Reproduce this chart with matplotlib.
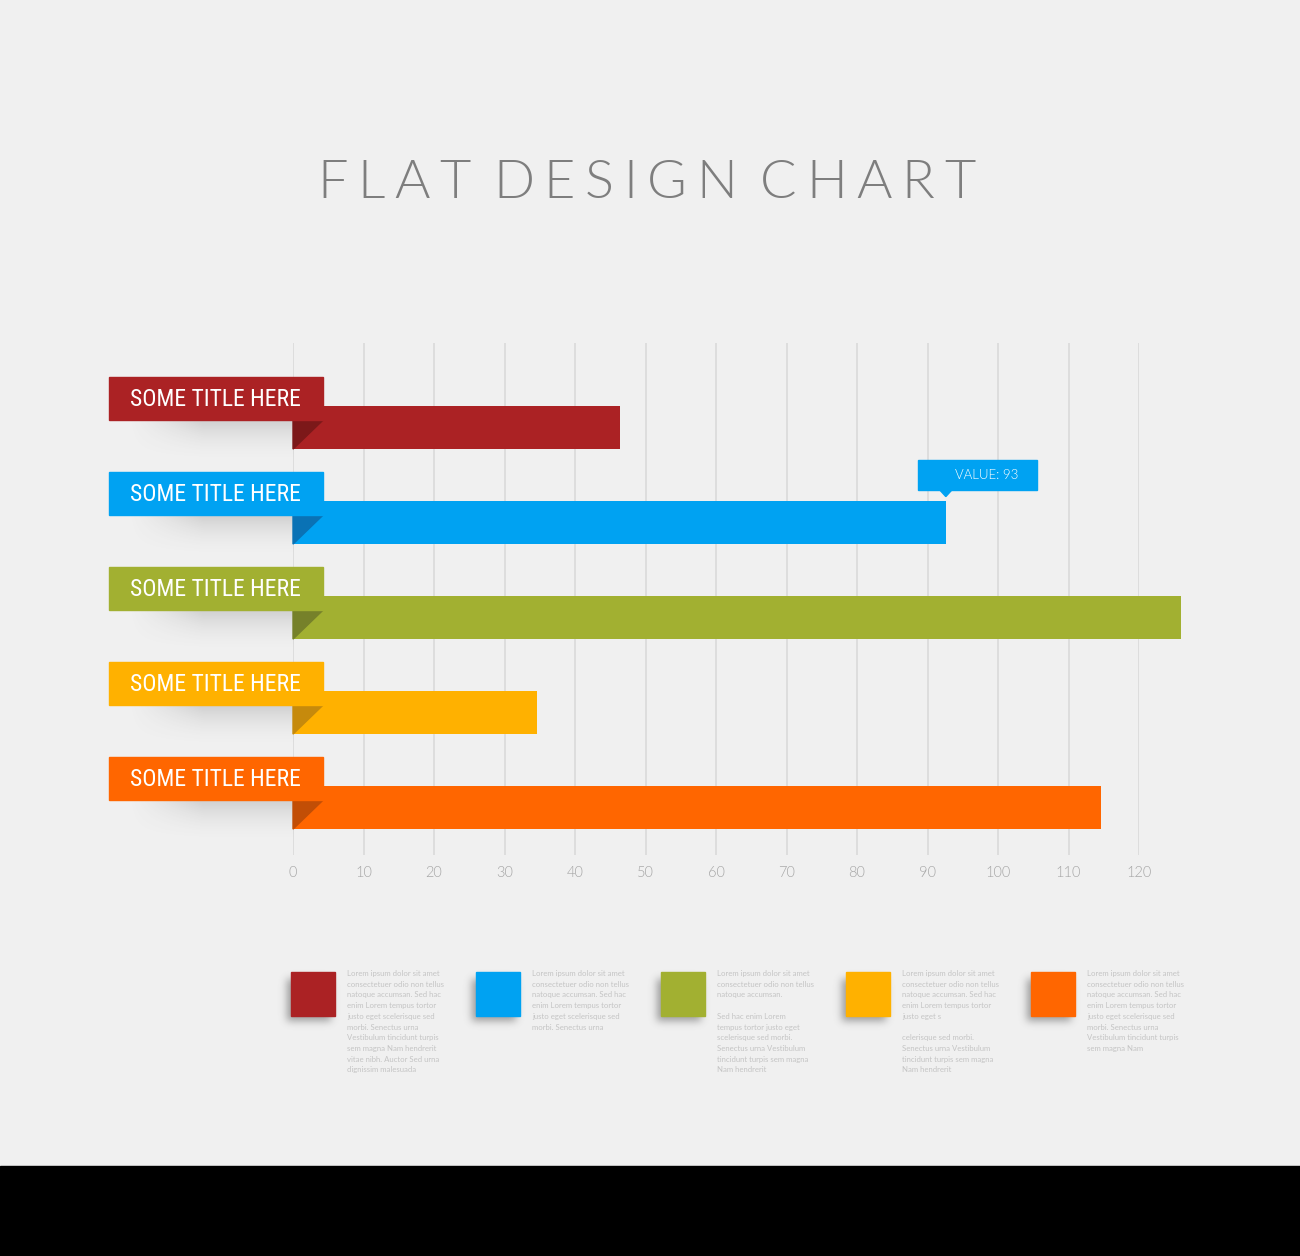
import os
import numpy as np
import matplotlib.pyplot as plt
from matplotlib.patches import Rectangle, Polygon
from matplotlib import font_manager as fm

W, H = 1300, 1256

# chart data
labels = ["SOME TITLE HERE"] * 5
values = [46.4, 92.6, 126, 34.6, 114.6]
colors = ["#ab2224", "#00a2f2", "#a2b031", "#ffb100", "#ff6600"]
folds = ["#7c1819", "#0a72b5", "#76812a", "#c68a0c", "#c24e06"]
ticks = list(range(0, 130, 10))
note_idx = 1
note_text = "VALUE: 93"

legend_texts = [
    "Lorem ipsum dolor sit amet\nconsectetuer odio non tellus\nnatoque accumsan. Sed hac\nenim Lorem tempus tortor\n"
    "justo eget scelerisque sed\nmorbi. Senectus urna\nVestibulum tincidunt turpis\nsem magna Nam hendrerit\n"
    "vitae nibh. Auctor Sed urna\ndignissim malesuada",
    "Lorem ipsum dolor sit amet\nconsectetuer odio non tellus\nnatoque accumsan. Sed hac\nenim Lorem tempus tortor\n"
    "justo eget scelerisque sed\nmorbi. Senectus urna",
    "Lorem ipsum dolor sit amet\nconsectetuer odio non tellus\nnatoque accumsan.\n\nSed hac enim Lorem\n"
    "tempus tortor justo eget\nscelerisque sed morbi.\nSenectus urna Vestibulum\ntincidunt turpis sem magna\nNam hendrerit",
    "Lorem ipsum dolor sit amet\nconsectetuer odio non tellus\nnatoque accumsan. Sed hac\nenim Lorem tempus tortor\n"
    "justo eget s\n\ncelerisque sed morbi.\nSenectus urna Vestibulum\ntincidunt turpis sem magna\nNam hendrerit",
    "Lorem ipsum dolor sit amet\nconsectetuer odio non tellus\nnatoque accumsan. Sed hac\nenim Lorem tempus tortor\n"
    "justo eget scelerisque sed\nmorbi. Senectus urna\nVestibulum tincidunt turpis\nsem magna Nam",
]


def have(fam):
    try:
        fm.findfont(fm.FontProperties(family=fam), fallback_to_default=False)
        return True
    except ValueError:
        return False


def font_file(stems):
    files = {os.path.basename(f.fname).split(".")[0]: f.fname for f in fm.fontManager.ttflist}
    for s in stems:
        if s in files:
            return fm.FontProperties(fname=files[s])
    return fm.FontProperties(family="DejaVu Sans")


# thin face for title / ticks, condensed face for the ribbon labels
thin = font_file(["Lato-Light", "Roboto-Light", "OpenSans-Light", "Lato-Regular"])
lab_font, lab_size = "Roboto", 14.5
for f in ["Roboto Condensed", "Liberation Sans Narrow", "Open Sans Condensed"]:
    if have(f):
        lab_font, lab_size = f, 17
        break

bg = "#f0f0f0"
fig = plt.figure(figsize=(W / 100, H / 100), dpi=100, facecolor=bg)

# overlay in pixel coords for title / legend / footer
ov = fig.add_axes([0, 0, 1, 1], zorder=0)
ov.set_xlim(0, W)
ov.set_ylim(H, 0)
ov.axis("off")


def blur(a, s):
    k = np.exp(-0.5 * (np.arange(-3 * s, 3 * s + 1) / s) ** 2)
    k /= k.sum()
    a = np.apply_along_axis(lambda r: np.convolve(r, k, mode="same"), 1, a)
    a = np.apply_along_axis(lambda c: np.convolve(c, k, mode="same"), 0, a)
    return a


# title with wide letter spacing
r = fig.canvas.get_renderer()
title = "FLAT DESIGN CHART"
chars, widths = [], []
for ch in title:
    if ch == " ":
        chars.append(None)
        widths.append(0)
        continue
    t = ov.text(0, 198, ch, fontproperties=thin, fontsize=39, color="#7e7e7e",
                ha="left", va="baseline")
    chars.append(t)
    widths.append(t.get_window_extent(r).width)
n_letters = sum(c is not None for c in chars)
n_words = title.count(" ")
word_extra = 1.4
gap = (658 - sum(widths)) / (n_letters - 1 + word_extra * n_words)
x = 317
for t, w in zip(chars, widths):
    if t is None:
        x += word_extra * gap
        continue
    t.set_x(x)
    x += w + gap

# footer band
ov.add_patch(Rectangle((0, 1166), W, H - 1166, color="black", zorder=1))

# legend squares with soft shadow and text
for i, c in enumerate(colors):
    sx, sy = 291 + 185 * i, 972
    pad = 20
    a = np.zeros((44 + 2 * pad, 44 + 2 * pad))
    a[pad + 7:pad + 44 + 5, pad - 4:pad + 40] = 1
    a = blur(a, 4) * 0.55
    img = np.zeros(a.shape + (4,))
    img[..., :3] = 0.35
    img[..., 3] = a
    ov.imshow(img, extent=(sx - pad, sx + 44 + pad, sy + 44 + pad, sy - pad),
              aspect="auto", interpolation="bilinear", zorder=2)
    ov.add_patch(Rectangle((sx, sy), 44, 44, color=c, zorder=3))
    ov.text(sx + 56, sy - 2, legend_texts[i], fontsize=5.6, color="#c4c4c4",
            family=["Lato", "DejaVu Sans"], ha="left", va="top", linespacing=1.62)
ov.set_xlim(0, W)
ov.set_ylim(H, 0)

# main chart axes
ax = fig.add_axes([293 / W, 1 - 855 / H, 846 / W, 512 / H], zorder=2)
ax.patch.set_alpha(0)
for s in ax.spines.values():
    s.set_visible(False)

bh = 0.455
ypos = np.arange(len(values))
bars = ax.barh(ypos, values, height=bh, color=colors, zorder=3)
for b in bars:
    b.set_clip_on(False)

rib_l, rib_r = -26.1, 4.26
lift = 0.15
for i, (lab, c, fc) in enumerate(zip(labels, colors, folds)):
    top = i - bh / 2
    rb = top + lift
    # soft shadow under the label ribbon
    t_ = np.linspace(0, 1, 60)[:, None]
    s_ = np.linspace(0, 1, 120)[None, :]
    al = 0.2 * (1 - t_) ** 2 * np.clip(s_ * 2.2, 0, 1) ** 1.3
    img = np.zeros(al.shape + (4,))
    img[..., :3] = 0.3
    img[..., 3] = al
    ax.imshow(img, extent=(rib_l + 2.5, 0, rb + 0.45, rb), aspect="auto",
              interpolation="bilinear", zorder=2, clip_on=False)
    ax.add_patch(Rectangle((rib_l, rb - bh), rib_r - rib_l, bh, color=c, zorder=5, clip_on=False))
    ax.add_patch(Polygon([(0, rb), (rib_r, rb), (0, i + bh / 2)], closed=True,
                         color=fc, zorder=4, clip_on=False))
    ax.text(rib_l + 3.0, rb - bh / 2 + 0.01, lab, fontsize=lab_size, color="white",
            family=[lab_font, "DejaVu Sans"], ha="left", va="center", zorder=6, clip_on=False)

# value call-out
v = values[note_idx]
btop = note_idx - bh / 2
ax.add_patch(Rectangle((v - 3.95, btop - 0.432), 16.85, 0.316, color=colors[note_idx],
                       zorder=6, clip_on=False))
ax.add_patch(Polygon([(v - 0.9, btop - 0.118), (v + 0.9, btop - 0.118), (v, btop - 0.045)],
                     closed=True, color=colors[note_idx], zorder=6, clip_on=False))
ax.text(v + 5.8, btop - 0.274, note_text, fontproperties=thin, fontsize=9.5, color="white",
        ha="center", va="center", zorder=7, clip_on=False)

ax.set_xticks(ticks)
ax.set_xticklabels([str(t) for t in ticks])
for tl in ax.get_xticklabels():
    tl.set_fontproperties(thin)
    tl.set_fontsize(10.5)
    tl.set_color("#a6a6a6")
ax.set_yticks([])
ax.tick_params(axis="x", length=0, pad=8)
ax.grid(axis="x", color="#dadada", lw=1.2, zorder=0)
ax.set_axisbelow(True)
ax.set_xlim(0, 120)
ax.set_ylim(4.5, -0.889)

fig.savefig("out.png", dpi=100, facecolor=bg)
